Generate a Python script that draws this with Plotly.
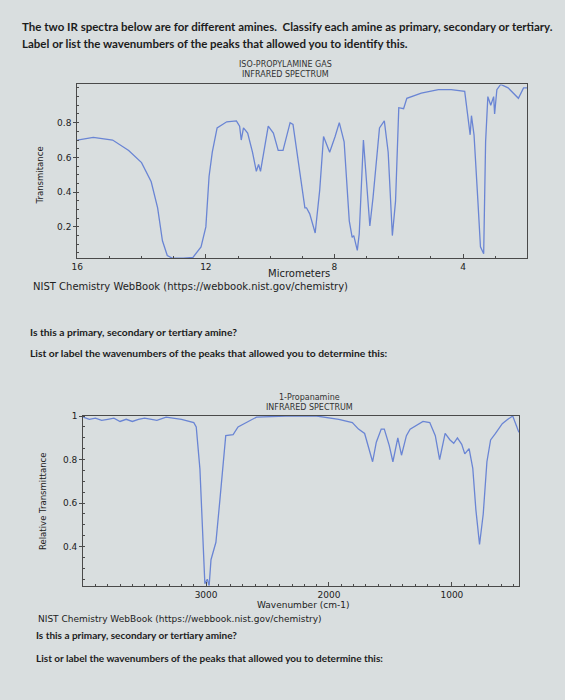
import plotly.graph_objects as go

# ---------------- data ----------------
# Top spectrum: iso-propylamine gas (micrometers vs transmittance)
top_um = [16.0, 15.5, 14.9, 14.4, 14.0, 13.7, 13.5, 13.35, 13.2, 13.05, 12.7, 12.4,
          12.15, 12.0, 11.9, 11.8, 11.65, 11.35, 11.05, 10.95, 10.9, 10.83, 10.7,
          10.55, 10.43, 10.36, 10.3, 10.15, 10.06, 9.9, 9.75, 9.6, 9.45, 9.38, 9.29,
          9.14, 8.98, 8.92, 8.87, 8.77, 8.6, 8.46, 8.34, 8.15, 7.98, 7.85, 7.7, 7.54,
          7.45, 7.4, 7.29, 7.23, 7.1, 6.98, 6.9, 6.8, 6.6, 6.45, 6.33, 6.2, 6.1, 6.0,
          5.85, 5.75, 5.3, 4.77, 4.37, 3.95, 3.85, 3.78, 3.74, 3.66, 3.54, 3.46, 3.36,
          3.3, 3.23, 3.14, 3.05, 3.02, 2.95, 2.83, 2.6, 2.43, 2.28, 2.12, 2.0]
top_T = [0.70, 0.715, 0.70, 0.64, 0.57, 0.46, 0.31, 0.12, 0.035, 0.02, 0.02, 0.025,
         0.085, 0.20, 0.49, 0.63, 0.77, 0.805, 0.81, 0.78, 0.70, 0.77, 0.74,
         0.63, 0.52, 0.56, 0.52, 0.675, 0.78, 0.74, 0.64, 0.64, 0.76, 0.80, 0.79,
         0.60, 0.37, 0.31, 0.31, 0.275, 0.165, 0.41, 0.72, 0.63, 0.72, 0.80, 0.69, 0.235,
         0.14, 0.15, 0.065, 0.16, 0.70, 0.41, 0.205, 0.37, 0.77, 0.81, 0.63, 0.15, 0.35, 0.886,
         0.88, 0.94, 0.97, 0.99, 0.99, 0.98, 0.846, 0.73, 0.84, 0.73, 0.35, 0.085, 0.045,
         0.69, 0.95, 0.90, 0.95, 0.85, 0.99, 1.02, 1.0, 0.97, 0.94, 1.0, 1.0]

# Bottom spectrum: 1-propanamine (wavenumber vs relative transmittance)
bot_wn = [4000, 3950, 3900, 3850, 3800, 3750, 3700, 3650, 3600, 3550, 3500, 3400,
          3325, 3200, 3100, 3080, 3050, 3025, 3010, 2990, 2975, 2960, 2920, 2890,
          2860, 2840, 2780, 2740, 2590, 2350, 2100, 1920, 1810, 1760, 1710, 1685,
          1645, 1615, 1575, 1550, 1510, 1480, 1440, 1410, 1370, 1340, 1235, 1180,
          1135, 1100, 1055, 1015, 985, 955, 920, 895, 860, 830, 805, 775, 745, 715,
          685, 645, 590, 545, 505, 475, 455]
bot_T = [0.995, 0.985, 0.99, 0.98, 0.985, 0.99, 0.975, 0.985, 0.975, 0.985, 0.99, 0.98,
         0.995, 0.985, 0.97, 0.95, 0.756, 0.45, 0.23, 0.25, 0.22, 0.34, 0.42, 0.60,
         0.80, 0.91, 0.915, 0.95, 0.995, 1.0, 1.0, 0.985, 0.97, 0.94, 0.92, 0.865,
         0.79, 0.88, 0.94, 0.94, 0.865, 0.79, 0.90, 0.82, 0.91, 0.94, 0.975, 0.97,
         0.91, 0.80, 0.92, 0.89, 0.875, 0.90, 0.87, 0.826, 0.85, 0.76, 0.57, 0.41, 0.55, 0.79,
         0.89, 0.92, 0.965, 0.985, 1.0, 0.955, 0.925]

top_yticks = [0.2, 0.4, 0.6, 0.8]
top_xticks = [16, 12, 8, 4]
bot_yticks = [0.4, 0.6, 0.8, 1.0]
bot_yticklabels = ["0.4", "0.6", "0.8", "1"]
bot_xticks = [3000, 2000, 1000]

# ---------------- figure ----------------
W, H = 565, 700
BG = "#d9dedf"
LINE = "#6a85d4"
AX = "#4a4a4a"
TXT = "#1c1c1c"


def px(x):
    return x / W


def py(y):
    return 1 - y / H


fig = go.Figure()
fig.add_trace(go.Scatter(x=top_um, y=top_T, mode="lines", xaxis="x", yaxis="y",
                         line=dict(color=LINE, width=1.3), showlegend=False))
fig.add_trace(go.Scatter(x=bot_wn, y=bot_T, mode="lines", xaxis="x2", yaxis="y2",
                         line=dict(color=LINE, width=1.3), showlegend=False))

axfont = dict(family="DejaVu Sans", size=9, color="#222")
minor_ax = dict(ticks="inside", ticklen=2, tickcolor=AX)
common = dict(showline=True, linecolor=AX, linewidth=1, mirror=True, showgrid=False,
              zeroline=False, tickcolor=AX, tickfont=axfont)

fig.update_layout(
    width=W, height=H, margin=dict(l=0, r=0, t=0, b=0),
    paper_bgcolor=BG, plot_bgcolor=BG, showlegend=False,
    xaxis=dict(domain=[px(72), px(527)], range=[16, 2], anchor="y",
               tickvals=top_xticks, ticks="inside", ticklen=4,
               minor=dict(dtick=1, **minor_ax), **common),
    yaxis=dict(domain=[py(255), py(80)], range=[0.02, 1.02], anchor="x",
               tickvals=top_yticks, tickformat=".1f", ticks="outside", ticklen=3,
               minor=dict(dtick=0.05, **minor_ax), **common),
    xaxis2=dict(domain=[px(78), px(519)], range=[4000, 450], anchor="y2",
                tickvals=bot_xticks, ticks="inside", ticklen=4,
                minor=dict(dtick=100, **minor_ax), **common),
    yaxis2=dict(domain=[py(585), py(414)], range=[0.22, 1.0], anchor="x2",
                tickvals=bot_yticks, ticktext=bot_yticklabels, ticks="outside", ticklen=3,
                minor=dict(dtick=0.05, **minor_ax), **common),
)

head1 = dict(family="Lato", size=11.5, color=TXT)
head2 = dict(family="Lato", size=10.3, color=TXT)
head3 = dict(family="Lato", size=10, color=TXT)
small = dict(family="DejaVu Sans", size=8, color="#333")
nist1 = dict(family="DejaVu Sans", size=10, color="#222")
nist2 = dict(family="DejaVu Sans", size=9, color="#222")
ytitle = dict(family="Liberation Sans Narrow, DejaVu Sans Condensed, Liberation Sans", size=9.5, color="#222")


def note(text, x, y, font, xanchor="left", angle=0):
    fig.add_annotation(text=text, x=px(x), y=py(y), xref="paper", yref="paper",
                       xanchor=xanchor, yanchor="middle", showarrow=False,
                       font=font, textangle=angle)


note("<b>The two IR spectra below are for different amines.  Classify each amine as primary, secondary or tertiary.</b>",
     14, 22, head1)
note("<b>Label or list the wavenumbers of the peaks that allowed you to identify this.</b>",
     14, 39, head1)
note("ISO-PROPYLAMINE GAS", 283, 60, small, xanchor="center")
note("INFRARED SPECTRUM", 283, 70, small, xanchor="center")
note("Transmitance", 34, 172, ytitle, xanchor="center", angle=-90)
note("Micrometers", 296, 270, nist1, xanchor="center")
note("NIST Chemistry WebBook (https://webbook.nist.gov/chemistry)", 25, 284, nist1)
note("<b>Is this a primary, secondary or tertiary amine?</b>", 22, 329, head2)
note("<b>List or label the wavenumbers of the peaks that allowed you to determine this:</b>", 22, 350, head2)
note("1-Propanamine", 307, 395, small, xanchor="center")
note("INFRARED SPECTRUM", 307, 405, small, xanchor="center")
note("Relative Transmittance", 37, 500, ytitle, xanchor="center", angle=-90)
note("Wavenumber (cm-1)", 300, 604, nist2, xanchor="center")
note("NIST Chemistry WebBook (https://webbook.nist.gov/chemistry)", 30, 618, nist2)
note("<b>Is this a primary, secondary or tertiary amine?</b>", 28, 635, head3)
note("<b>List or label the wavenumbers of the peaks that allowed you to determine this:</b>", 28, 658, head3)

fig.write_html("out.html")
